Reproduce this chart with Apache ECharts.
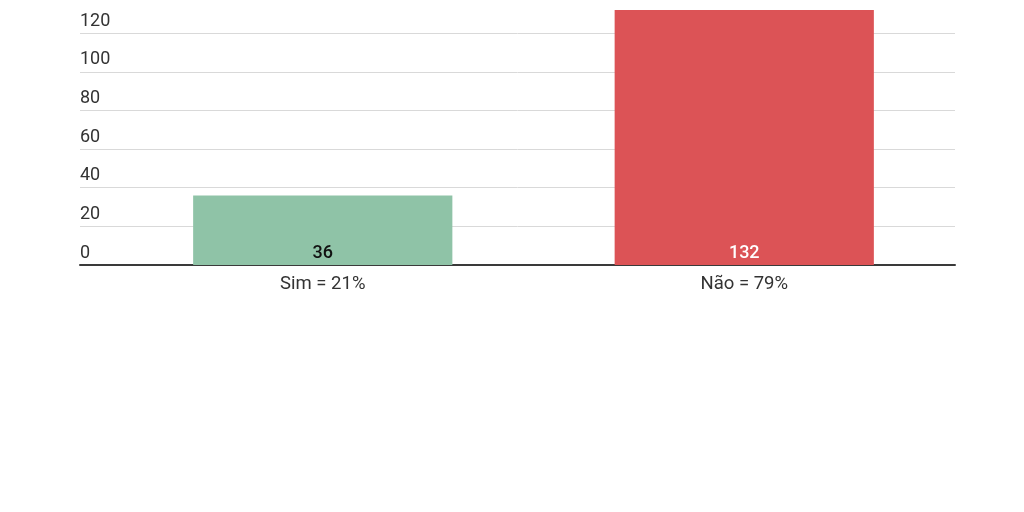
<!DOCTYPE html>
<html>
<head>
<meta charset="utf-8">
<script src="https://cdn.jsdelivr.net/npm/echarts@6/dist/echarts.min.js"></script>
<style>html,body{margin:0;padding:0;background:#fff}#c{width:1024px;height:512px}</style>
</head>
<body>
<div id="c"></div>
<script>
const categories = ['Sim = 21%', 'Não = 79%'];
const values = [36, 132];
const barColors = ['#8fc3a7', '#dc5356'];
const labelColors = ['#111111', '#ffffff'];
const yMax = 132;
const yInterval = 20;

const chart = echarts.init(document.getElementById('c'));
const font = 'Roboto, "Noto Sans", sans-serif';
chart.setOption({
  animation: false,
  grid: [
    { left: 80, right: 69, top: 10, bottom: 247 },
    { left: 112, right: 69, top: 10, bottom: 247 }
  ],
  xAxis: [
    { gridIndex: 0, type: 'category', data: categories,
      axisLine: { show: true, lineStyle: { color: '#3a3a3a', width: 2 } },
      axisTick: { show: false }, axisLabel: { show: false }, splitLine: { show: false } },
    { gridIndex: 1, type: 'category', data: categories,
      axisLine: { show: false }, axisTick: { show: false },
      axisLabel: { color: '#333', fontSize: 18.5, fontFamily: font, margin: 10 } }
  ],
  yAxis: [
    { gridIndex: 0, type: 'value', min: 0, max: yMax, interval: yInterval,
      axisLine: { show: false }, axisTick: { show: false },
      splitLine: { show: true, showMaxLine: false, lineStyle: { color: '#d9d9d9', width: 1 } },
      axisLabel: { inside: true, margin: 0, showMaxLabel: false, verticalAlign: 'bottom', align: 'left',
        padding: [0, 0, 3, 0], color: '#333', fontSize: 18, fontFamily: font } },
    { gridIndex: 1, type: 'value', min: 0, max: yMax, interval: yInterval, show: false,
      splitLine: { show: false } }
  ],
  series: [{
    type: 'bar', xAxisIndex: 1, yAxisIndex: 1, barWidth: '61.5%',
    data: values.map((v, i) => ({ value: v, itemStyle: { color: barColors[i] },
      label: { color: labelColors[i] } })),
    label: { show: true, position: 'insideBottom', distance: 3, fontSize: 18, fontWeight: 500, fontFamily: font }
  }]
});
</script>
</body>
</html>
